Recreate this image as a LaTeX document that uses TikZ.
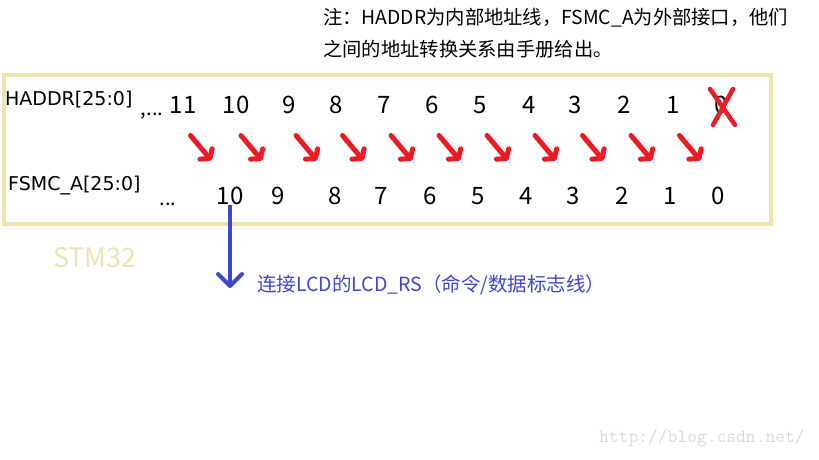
\documentclass[tikz,border=0pt]{standalone}
\usepackage{fontspec}
\setmainfont{Noto Sans CJK SC}
\newfontfamily\labelfont{DejaVu Sans}
\usetikzlibrary{arrows.meta, positioning, calc}
\definecolor{paintred}{RGB}{237,28,36}
\definecolor{paintblue}{RGB}{63,72,204}
\definecolor{painttan}{RGB}{239,228,176}

\begin{document}
\begin{tikzpicture}[x=1pt, y=1pt,
  bitnum/.style={inner sep=0pt, font=\fontsize{24}{24}\selectfont},
  rowlabel/.style={anchor=base west, inner sep=0pt, font=\labelfont\fontsize{19}{19}\selectfont},
  shiftarrow/.style={paintred, line width=5pt, line cap=round, -{Straight Barb[length=6pt, width=16pt, round]}},
  crossmark/.style={paintred, line width=4.5pt, line cap=round},
  notetext/.style={anchor=base west, inner sep=0pt, font=\fontsize{19.3}{19.3}\selectfont}]
  \useasboundingbox (0,0) rectangle (819,-460);

  % STM32 box
  \draw[painttan, line width=4pt] (4,-75) rectangle (771,-224);
  \node[anchor=base west, inner sep=0pt, painttan, font=\fontsize{27}{27}\selectfont] (chip) at (53,-267) {STM32};

  % Note
  \node[notetext] (note1) at (323,-25) {注：HADDR为内部地址线，FSMC\_A为外部接口，他们};
  \node[notetext] (note2) at (323,-57) {之间的地址转换关系由手册给出。};

  % HADDR row
  \node[rowlabel] (haddr) at (5,-105) {HADDR[25:0]};
  \node[anchor=base, inner sep=0pt, font=\fontsize{20}{20}\selectfont] (hdots) at (152,-115) {,...};
  \foreach \i/\x in {11/183, 10/236, 9/289, 8/336, 7/384, 6/432, 5/480, 4/529, 3/575, 2/624, 1/673, 0/721}
    \node[bitnum] (h\i) at (\x,-105) {\i};

  % FSMC_A row
  \node[rowlabel] (fsmc) at (8,-190) {FSMC\_A[25:0]};
  \node[anchor=base, inner sep=0pt, font=\fontsize{20}{20}\selectfont] (fdots) at (168,-205) {...};
  \foreach \i/\x in {10/230, 9/278, 8/335, 7/381, 6/430, 5/478, 4/526, 3/573, 2/622, 1/670, 0/718}
    \node[bitnum] (f\i) at (\x,-196) {\i};

  % shift by one bit
  \foreach \i in {0,...,10}{
    \pgfmathtruncatemacro{\j}{\i+1}
    \draw[shiftarrow] ($(h\j)!0.5!(f\i)+(-16,15)$) -- ($(h\j)!0.5!(f\i)+(5,-10)$);
  }

  % bit 0 is dropped
  \draw[crossmark] ($(h0)+(-11,16)$) -- ($(h0)+(14,-20)$);
  \draw[crossmark] ($(h0)+(12,16)$) -- ($(h0)+(-8,-20)$);

  % A10 goes to RS
  \coordinate (rsend) at (230,-288);
  \draw[paintblue, line width=4pt, -{Straight Barb[length=12pt, width=24pt, round]}] (f10.south) -- (f10.south |- rsend);
  \node[anchor=base west, inner sep=0pt, paintblue, font=\fontsize{19.5}{19.5}\selectfont] (rsnote) at (257,-291) {连接LCD的LCD\_RS（命令/数据标志线）};

  % watermark
  \node[anchor=base west, inner sep=0pt, gray!30, font=\ttfamily\fontsize{19}{19}\selectfont] (mark) at (599,-442) {http://blog.csdn.net/};
\end{tikzpicture}
\end{document}
